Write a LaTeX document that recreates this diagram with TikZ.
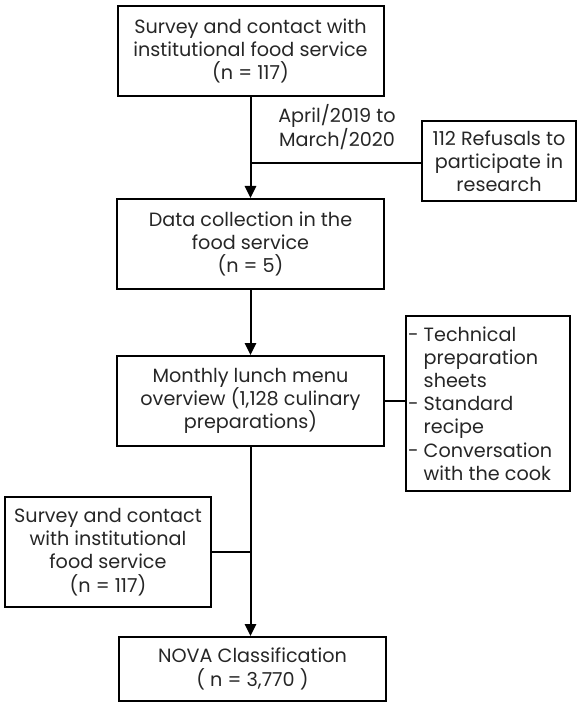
\documentclass[tikz,border=0pt]{standalone}
\usepackage{fontspec}
\setmainfont{Poppins}
\usetikzlibrary{arrows.meta}
\begin{document}
\begin{tikzpicture}[x=0.75pt,y=-0.75pt,
  box/.style={draw=black,line width=1.5pt,align=center,inner sep=0pt,
    font=\fontsize{14.4}{17.4}\selectfont,text=black!85},
  conn/.style={line width=1.5pt,draw=black},
  arr/.style={conn,-{Triangle[length=9pt,width=8.5pt]}}]
\useasboundingbox (0,0) rectangle (583,709);
\node[box,minimum width=266*0.75pt,minimum height=90*0.75pt] (b1) at (250.5,51)
  {Survey and contact with\\institutional food service\\(n = 117)};
\node[box,minimum width=267*0.75pt,minimum height=90*0.75pt] (b2) at (250.5,244)
  {Data collection in the\\food service\\(n = 5)};
\node[box,minimum width=267*0.75pt,minimum height=90*0.75pt] (b3) at (250.5,401)
  {Monthly lunch menu\\overview (1,128 culinary\\preparations)};
\node[box,minimum width=154*0.75pt,minimum height=80*0.75pt] (ref) at (499,161)
  {112 Refusals to\\participate in\\research};
\node[box,align=left,minimum width=164*0.75pt,minimum height=175*0.75pt] (list) at (488,403.5)
  {\llap{- }Technical\\preparation\\sheets\\\llap{- }Standard\\recipe\\\llap{- }Conversation\\with the cook};
\node[box,minimum width=206*0.75pt,minimum height=110*0.75pt] (b4) at (108,552)
  {Survey and contact\\with institutional\\food service\\(n = 117)};
\node[box,minimum width=267*0.75pt,minimum height=64*0.75pt] (nova) at (252.5,669)
  {NOVA Classification\\( n = 3,770 )};
\node[align=center,inner sep=0pt,font=\fontsize{14.4}{17.4}\selectfont,text=black!85] (lab) at (337,127)
  {April/2019 to\\March/2020};
\coordinate (j1) at (250.5,163);
\draw[arr] (b1.south) -- (b2.north);
\draw[conn] (ref.west |- j1) -- (j1);
\draw[arr] (b2.south) -- (b3.north);
\draw[conn] (b3.east) -- (b3.east -| list.west);
\draw[arr] (b3.south) -- (b3.south |- nova.north);
\draw[conn] (b4.east) -- (b4.east -| b3.south);
\end{tikzpicture}
\end{document}
